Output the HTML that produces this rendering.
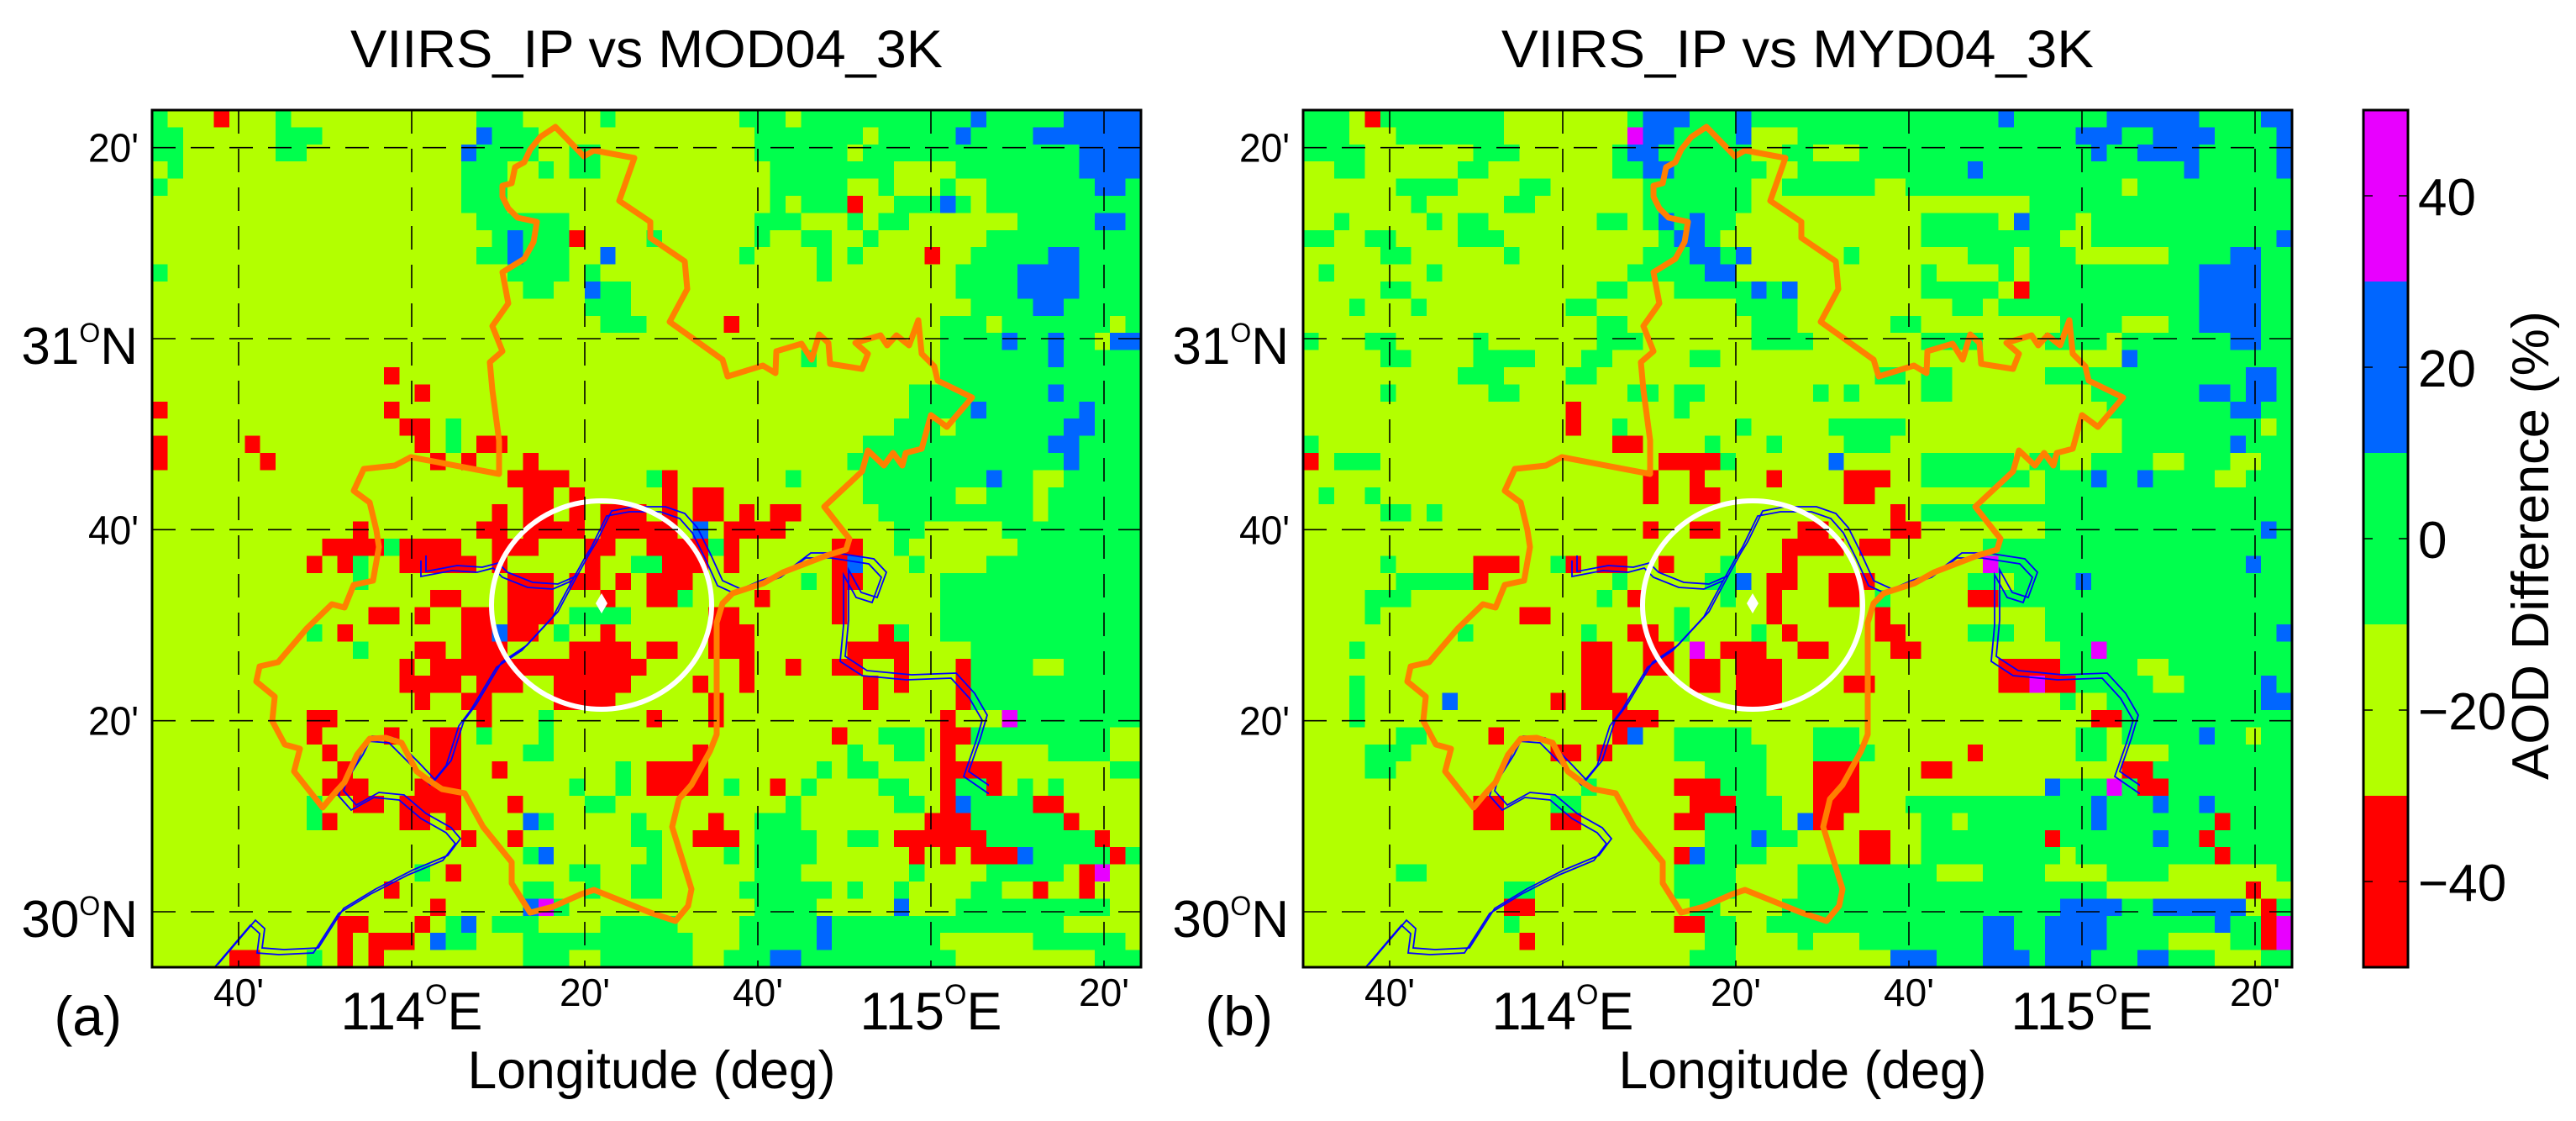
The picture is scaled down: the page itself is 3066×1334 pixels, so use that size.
<!DOCTYPE html>
<html><head><meta charset="utf-8"><style>
html,body{margin:0;padding:0;background:#fff;}
svg{display:block;font-family:"Liberation Sans",Arial,sans-serif;}
</style></head><body>
<svg id="fig" width="3066" height="1334" viewBox="0 0 3066 1334" xmlns="http://www.w3.org/2000/svg">
<rect width="3066" height="1334" fill="#fff"/>
<g id="root"></g>
</svg>
<script>
// ---- data ----
const panelTitles = ["VIIRS_IP vs MOD04_3K", "VIIRS_IP vs MYD04_3K"];
const panelLetters = ["(a)", "(b)"];
const binEdges = [-50, -30, -10, 10, 30, 50];
const binColors = ["#ff0000", "#b3ff00", "#00ff4d", "#0066ff", "#e800ff"];
const cbTicks = [-40, -20, 0, 20, 40];
const codeValues = {r: -40, y: -20, g: 0, b: 20, m: 40};
const lonTicks = [113 + 40/60, 114, 114 + 20/60, 114 + 40/60, 115, 115 + 20/60];
const lonLabels = ["40'", "114|E", "20'", "40'", "115|E", "20'"];
const latTicks = [30, 30 + 20/60, 30 + 40/60, 31, 31 + 20/60];
const latLabels = ["30|N", "20'", "40'", "31|N", "20'"];
const panelARows = [
"gyyyryyygyyyyyyyyyyyygggyyyyygyyyyyyyygggygggggggggggbgggggbbbb",
"ggyyyyyygggyyyyyyyyyybgggyyyyyyyyyyyyyygggggggygggggbggggbbbbb",
"ggyyyyyyggyyyyyyyyyybggggyyggyyyyyyyyyyggggggyggggggggggggggbbb",
"ygyyyyyyyyyyyyyyyyyygggyygyggyyyyyyyyyyyggggggggyyyyggggggggbbb",
"gyyyyyyyyyyyyyyyyyyygggyyyyyyyyyyyyyyyyygggggyygyyygyygggggggbbg",
"yyyyyyyyyyyyyyyyyyyygggyyyyyyyyyyyyyyyyygygggryygggbgygggggggggg",
"yyyyyyyyyyyyyyyyyyyyyggggggyyyyyyyyyyyygggyyygyggyyyyyyygggggbbgg",
"yyyyyyyyyyyyyyyyyyyyyygbgggryyyygyyyyyygyyggyygyyyyyyygggggggggg",
"yyyyyyyyyyyyyyyyyyyyyggbgggyybyyyyyyyygyyyygygyyyyryygggggbbgggg",
"gyyyyyyyyyyyyyyyyyyyyyyggggygyyyyyyyyyyyyyygyyyyyyyyggggbbbbgggg",
"yyyyyyyyyyyyyyyyyyyyyyyyggyybggyyyyyyyyyyyyyyyyyyyyyggggbbbbgggg",
"yyyyyyyyyyyyyyyyyyyyyyyyyyyygggyyyyyyyyyyyyyyyyyyyyyyggggbbggggg",
"yyyyyyyyyyyyyyyyyyyyyyyyyyyyygggyyyyyryyyyyyyyyyyyygggygggggggyg",
"yyyyyyyyyyyyyyyyyyyyyyyyyyyyyyyyyyyyyyyyyyyyyyyyyyyggggbggbggybb",
"yyyyyyyyyyyyyyyyyyyyyyyyyyyyyyyyyyyyyyyyyygyyyyyyyygggggggbggggg",
"yyyyyyyyyyyyyyyryyyyyyyyyyyyyyyyyyyyyyyyyyyyyyyyyyyggggggggggggg",
"yyyyyyyyyyyyyyyyyryyyyyyyyyyyyyyyyyyyyyyyyyyyyyyygggggggggbggggg",
"ryyyyyyyyyyyyyyryyyyyyyyyyyyyyyyyyyyyyyyyyyyyyyyyggggbggggggbggg",
"yyyyyyyyyyyyyyyyrrygyyyyyyyyyyyyyyyyyyyyyyyyyyyygggygggggggbbggg",
"ryyyyyryyyyyyyyyyrygyrryyyyyyyyyyyyyyyyyyyyyyyggggggggggggbbggg",
"ryyyyyyryyyyyyyyyyryryyyryyyyyyyyyyyyyyyyyyyyggggggggggggggbggg",
"yyyyyyyyyyyyyyyyyyyyyyyrrrryyyyygryyyyyyygyyyyggggggggbggyyggggg",
"yyyyyyyyyyyyyyyyyyyyyyyyrryryyyyyryrryyyyyyyyyggggggyygggyggggggy",
"yyyyyyyyyyyyyyyyyyyyyyryrryryrrryryrryryrryyyyyggggggggggygggggggg",
"yyyyyyyyyyyyyryyyyyyyrryrrrryrrrrrybyrrrryyyyyyyggyyyyyggggggggg",
"yyyyyyyyyyyrrrrgrrrryyrrryyyrryyrrrrgryyyyyyrryygyyyyyyygggggggg",
"yyyyyyyyyyryrgyyrrrrryryyyyyryyggrrryryyyyyyrbyyygyyyyggggggggggg",
"yyyyyyyyyyyyygyyyyyyyyyrrryrryryrrryyyyyyygyrryyyyyggggggggggggg",
"yyyyyyyyyyyyyyyyyyrryyyrrryyyryyrrgyyyyryyyyryyyyyyggggggggggggg",
"yyyyyyyyyyyyyyrryryyrryrrryggggyyyyyrryyyyyyryyyyyyggggggggggggg",
"yyyyyyyyyygyryyyyyyyrrbrrygyyryyyyyyrrryyyyyyyyrgyyggggggggggggg",
"yyyyyyyyyyyyygyyyrryrrryyyyrrrryrryyrrryyyyyyrrrryyyyggggggggggg",
"yyyyyyyyyyyyyyyyryrrrrrrrrrrrrrryyyyyyryyryyrryyryyyrggggyyggggg",
"yyyyyyyyyyyyyyyyrrrryrrryyrrrrryyyyryyryyyyyyyryryyyrggggggggggg",
"yyyyyyyyyyyyyyyyyryyrryyyyrrrryyyyyyryyyyyyyyyryyyyyrggggggggggg",
"yyyyyyyyyyrryyyyyyyyyryyygyyyyyyryyyryyyyyyyyyyyyyyryyymgggggggg",
"yyyyyyyyyyryyyyryyrrygyyygyyyyyyyyyyyyyyyyyyryygggyrrgggggggggyy",
"yyyyyyyyyyyryyyyyyrryyyyggyyyyyyyyyryyyyyyyyygyyggyryyyyyyggggyy",
"yyyyyyyyyyyyryyyyyrryyryyyyyyygyrrrryyyyyyygyggyyyyrrrryyyyyyygg",
"yyyyyyyyyyyrrryyyrrryyyyyyygyygyrrrrygyyrygyyyyggyyrggrygygyyyy",
"yyyyyyyyyygyyrryrrrryyyryyyyggyyyyyyyyyyygyyyyyyggyrbggggrryyyyy",
"yyyyyyyyyygryyyyrryryyyybgyyyyygyyyyryygggyyyyyyyyrrrggggggryyyy",
"yyyyyyyyyyyyyyyyyyyyryyryyyyyyyggyyrrryggggyyggyrrrrrrgggggggryyy",
"yyyyyyyyyyyyyyyyyyyyyyyygbyyyyyygyyyygyggggyyyyyyryryrrrbgggggrgg",
"yyyyyyyyyyyyyyyyygyryyyyyyyggyyggyyyyyygggyyyyyyygyyyygggggyrmy",
"yyyyyyyyyyyyyyyryyyyyyyyggyygyyggyyyyyggggggygyygyyyyggyyryyryy",
"yyyyyyyyyyyyyyyyyyryyyyybmgyyyyyyyyyyyyggggyyyyybyyyggggggggggyyr",
"yyyyyyyyyyyyrryyyrygbygggyyyygggggyyyygggggbgggggggggggggggyyyy",
"yyyyyyyyyyyyryrrrybggyyygggggggggggyyygggggbgggggggyyyyyyggggggyy",
"yyyyyrryyygyryryyyyyyyyygggyyggggggyygggbbggggggggggyyyyyyyyygg"
];
const panelBRows = [
"gggyrggggggggyyyyyyyygbbbgggbggggggggggggggggbggggggbbbbbbggggbb",
"gggyyygggggggyyyyyyyymbbggggbyyyggggggggggggggggggbbbggbbbbggggbb",
"ggggyyyyyyygggyyyyyygbbggggggyyggyyygggggggggggggggbggbbbbgggggb",
"yyggyyyyyyggyyyyyyyyggbbggggggyygggggggggggbgggggggggggggbgggggbb",
"yyyyyyggggyyyyggyyyyyygggggggyyggggggyyggggggggggggggyggggggggggb",
"yyyyyyygyyyyyggyyyyyyygggggggyyyyyyyyyyyyyyyyyygggggggggggggggggb",
"yygyyyyygyggyyyyyyyggygbgbggyyyyyyyyyyyygggggybgggygggggggggggggbb",
"ggyyggyyyygggyyyyyyyyyygbbgyyyyyyyyyyyyygggggggggyyggggggggggggbb",
"yyyyyggyyyyyygyyyyyyyygggbbgbyyyyyygyyyyyyygggygggyyyyyyggggbbgg",
"ygyyyyyygyyyyyyyyyyyygggggbbyyyyyyyyyyyygyyyygygggggggggggbbbbgg",
"yyyyyggyyyyyyyyyyyyggyyygggggbgbyyyyyyyygggggyrgggggggggggbbbbgg",
"yyygyyygyyyyyyyyyggyyyyyyyyyggggyyyyyyyyyyggygggggggggggggbbbbgg",
"yyyyyyyyyyyyyyyyyyyggyyyyyyyygggyyyyyyggyyyyyyyyyggggyyyggbbbbgg",
"gyyyggyyyyygyyyyyyygggyyyyyyyggggyyyyyyyggggyyyyggggygggggggbbggg",
"yyyyyggyyyyggggyyyggyyyyyggyyyyyyyyyyyyyyyyyyyyyyyyyybggggggggggb",
"yyyyyyyyyygggyyyyggyyyyyyyyyyyyyyyyyyggyggyyyyyygggggggggggggbbg",
"yyyyygyyyyyyggyyyyyyyggyggyyyyyyygygyyyyggyyyyyyyyygggggggbbgbbgg",
"yyyyyyyyyyyyyyyyyryyyyyygyyyyyyyyyyyyyyyyyyyyyyyyyyyggggggggbbgg",
"yyyyyyyyyyyyyyyyyryygyyyyyyygyyyyygggggyyyyyyyyyyyyyygggggggggyg",
"gyyyyyyyyyyyyyyyyyyyrryyyygyyygyyyygggyyyyyyyyyyyyyyygggggggbgggg",
"rygggyyyyyyyyyyyyyyyyyyrrrrgyyyyyybyyyyyggggggyggyyggggyygggyyggg",
"yyyyyyyyyyyyyyyyyyyyyyryyryyyyryyyyrrryygggggggygggbggbggggyyggg",
"ygyygyyyyyyyyyyyyyyyyyryyrryyyyyyyyrryyyyyyyyyyyggggggggggggggggg",
"yyyyyggygyyyyyyyyyyyyyyyyyyyyyyyyyyyyyryggggggggggggggggggggggggb",
"yyyyyyyyyyyyyyyyyyyyyyryyrryyyyyrryyyyrryyyyyyyyggggggggggggggbg",
"yyyyyyyyyyyyyyyyyyyyyyyyyyyyyyyrrrryrryyyyyyggggggggggggggggggg",
"yyyyygyyyyyrrryygryrryyryyygyyyryyyyyyyyyyyymggggggggggggggggbg",
"yyyyyygggggryyyyyyyygyyyyyggbyrryyrrryyyyyyggyggggbgggggggggggg",
"yyyygggyyyyyyyyyyyygyryyyyygyyryyyrrygyyyyyrrggggggggggggggggggg",
"yyyygyyyyyyyyyrryyyyyyyygyyyyyryyyyyyryyyyyyyyyygggggggggggggggg",
"yyyyyyyyyygyyyyyyygyyrrygyyyygyryyyyyrryyyygggyygggggggggggggggb",
"yyygyyyyyyyyyyyyyyrryyrrymyrrryyrryyyyrryyyyyyyyyggmgggggggggggg",
"yyyyyyyyyyyyyyyyyyrryyrryrryrrryyyyyyyyyyyyyyrrrrgggggyygggggggg",
"yyygyyyyyyyyyyyyyyrryyyyyrryrrryyyyrryyyyyyyyrrmrrgggggyygggggbgg",
"yyygyyyyybyyyyyyryrrryyyyyyyrrryyyyyyyyyyyyyyyyyygyyggggggggggbb",
"yyygyyyyyyyyyyyyyyyyrrryyyyyyyyyyyyyyyyyyyyyyyyyyyyrrggggggggggg",
"yyyyyyggyyyyryyyyyyyrbyygggggyyyygggyyyyyyyyyyyyyyggygggggbggyg",
"yyyygggyyyyyyyyyrryryyyyggggggyyyggggyyyyyyryyyyyyggyyyyggggggggg",
"yyyyggyyyyyyyyyyyyyyyyyyyyggggyyyrrryyyyrryyyyyyyyyyyrrggggggggg",
"yyyyyyyyyyyyyyyyyygyyyyyrrrgggyyyrrryyyyyyyyyyyybgggmgrrgggggggg",
"yyyyyyyyyyyrryyyggyyyyyyyrrrgggyyrrryyyggggggggggggbgggbggbgggg",
"yyyyyyyyyyyrryyyrryyyyyyrrgggggybrryyyyyggyggggggggbgggggggrgggg",
"yyyyyyyyyyyyyyyyyyyyyyyyyygggbggyyyyrryyggggggggrggggggbggrgggg",
"yyyyyyyyyyyyyyyyyyyyyyyyrbggggyyyyyyrryygggggggggygggggggggrgggg",
"yyyyyyggyyyyyyyyyyyyyyyyggggyyyygggggggggyyyggggyyyyggggyyyyyyyg",
"yyyyyyyyyyyyyggyyyyyyyyyggggyyyyggggggggggggggggggggyyyyyyyyyryy",
"yyyyyyyyyyyyyrryyyyyyyyyyggyyyyggggggggggggggggggbbbbggbbbbbbyrgg",
"yyyyyyyyyyyyygyyyyyyyyyyrrggyyggggggggggggggbbggbbbbgggggggbggrm",
"yyyyyyyyyyyyyyryyyyyyyyyyyggyyyygyyyggggggggbbggbbbbggggyyyyggrm",
"yyyyyyyyyyyyyyyyyyyyyyyyygggyyyyyyyyyybbbgggbbbgbbbgggbbgggyyygg"
];
const boundaryPts = [[661,151],[695,186],[707,179],[755,188],[737,239],[774,264],[774,283],[815,311],[818,344],[797,383],[860,428],[866,448],[908,435],[923,444],[924,418],[954,409],[966,428],[975,398],[986,408],[988,433],[1026,439],[1033,421],[1018,408],[1048,399],[1056,411],[1067,399],[1082,411],[1093,381],[1097,421],[1112,436],[1116,453],[1157,473],[1127,508],[1108,494],[1097,534],[1078,539],[1074,554],[1063,539],[1052,554],[1033,536],[1026,561],[981,603],[1003,631],[1011,641],[1007,654],[984,661],[932,681],[909,694],[872,706],[860,718],[853,741],[853,874],[845,894],[823,934],[808,951],[800,984],[823,1058],[819,1078],[804,1096],[774,1086],[737,1071],[707,1059],[692,1064],[658,1079],[631,1086],[609,1051],[609,1026],[575,984],[553,944],[526,939],[511,929],[496,918],[478,884],[459,878],[440,879],[425,898],[410,931],[399,943],[384,961],[350,918],[357,891],[339,886],[324,858],[327,829],[305,811],[309,793],[331,788],[365,748],[395,719],[410,723],[421,696],[444,691],[451,651],[448,631],[440,598],[421,584],[433,558],[470,554],[489,544],[594,564],[594,524],[586,464],[583,431],[598,418],[586,388],[605,361],[598,324],[624,308],[635,288],[639,264],[616,259],[605,248],[598,234],[598,221],[609,218],[613,199],[624,193],[631,178],[643,163]];
const riverMain = [[256,1151],[301,1098],[312,1108],[309,1131],[335,1133],[376,1131],[406,1084],[444,1061],[489,1038],[530,1021],[545,1001],[534,988],[504,971],[478,949],[448,946],[421,961],[406,944],[410,931],[429,901],[440,879],[466,881],[496,911],[515,931],[534,908],[549,861],[564,841],[594,791],[624,771],[661,731],[684,688],[699,661],[707,648],[725,611],[752,606],[789,606],[812,614],[827,631],[842,661],[857,694],[879,704],[902,694],[932,684],[962,661],[992,661],[1037,668],[1052,684],[1041,714],[1022,708],[1007,681],[1007,741],[1003,784],[1029,801],[1082,806],[1135,804],[1157,828],[1172,854],[1164,881],[1150,921],[1179,941],[1225,931],[1247,954],[1285,988],[1300,1028],[1307,1071],[1341,1088],[1356,1114]];
const riverBranch = [[504,664],[504,683],[541,676],[571,678],[590,673],[601,684],[631,696],[661,698],[684,688]];

// ---- geometry ----
const NS = "http://www.w3.org/2000/svg";
const panelLefts = [181, 1551];
const plotTop = 131, plotW = 1177, plotH = 1020;
const lonMin = 113.5, lonMax = 113.5 + 1177/618;
const latMax = 31 + 272/682, latMin = latMax - 1020/682;
const cbX = 2813, cbW = 53;
function colorFor(v){for(let i=0;i<binColors.length;i++){if(v>=binEdges[i]&&v<binEdges[i+1])return binColors[i];}return binColors[binColors.length-1];}
function xLon(lon){return (lon-lonMin)/(lonMax-lonMin)*plotW;}
function yLat(lat){return plotTop+(latMax-lat)/(latMax-latMin)*plotH;}
function yCb(v){return plotTop+(50-v)/100*plotH;}
function mk(tag,attrs,parent){const e=document.createElementNS(NS,tag);for(const k in attrs)e.setAttribute(k,attrs[k]);parent.appendChild(e);return e;}
const root=document.getElementById('root');

function drawPanel(p,rows){
  const L=panelLefts[p];
  const g=mk('g',{transform:`translate(${L},0)`},root);
  
  
  const nR=rows.length, nC=64;
  const cw=plotW/nC, rh=plotH/nR;
  const cells=mk('g',{'shape-rendering':'crispEdges'},g);
  
  
  for(let r=0;r<nR;r++){
    let s=rows[r].replace(/ /g,'');
    while(s.length<nC)s+=s[s.length-1]||'y';
    for(let c=0;c<nC;c++){
      const v=codeValues[s[c]]!==undefined?codeValues[s[c]]:-20;
      const rc=mk('rect',{x:(c*cw).toFixed(2),y:(plotTop+r*rh).toFixed(2),width:(cw+0.6).toFixed(2),height:(rh+0.6).toFixed(2),fill:colorFor(v)},cells);
      
      
    }
  }
  const clip=mk('clipPath',{id:'clip'+p},g);
  mk('rect',{x:0,y:plotTop,width:plotW,height:plotH},clip);
  const ov=mk('g',{'clip-path':`url(#clip${p})`,transform:`translate(-181,0)`},g);
  const gr=mk('g',{stroke:'#000','stroke-width':1.6,'stroke-dasharray':'28 18',fill:'none'},g);
  
  
  lonTicks.forEach(t=>{const x=xLon(t);mk('line',{x1:x,y1:plotTop,x2:x,y2:plotTop+plotH},gr);});
  latTicks.forEach(t=>{const y=yLat(t);mk('line',{x1:0,y1:y,x2:plotW,y2:y},gr);});
  const pts=a=>a.map(q=>q.join(',')).join(' ');
  [[3,-3],[-3,3]].forEach(o=>{
    [riverMain,riverBranch].forEach(rv=>{
      const pl=mk('polyline',{points:pts(rv),fill:'none',stroke:'#0000ff','stroke-width':1.8,transform:`translate(${o[0]},${o[1]})`},ov);
      
      
    });
  });
  const bd=mk('polygon',{points:pts(boundaryPts),fill:'none',stroke:'#ff8000','stroke-width':7,'stroke-linejoin':'round'},ov);
  
  
  const ci=mk('ellipse',{cx:716,cy:720,rx:131,ry:124,fill:'none',stroke:'#fff','stroke-width':6},ov);
  
  
  const dm=mk('polygon',{points:'716,706 723,718 716,730 709,718',fill:'#fff'},ov);
  
  
  const fr=mk('rect',{x:0,y:plotTop,width:plotW,height:plotH,fill:'none',stroke:'#000','stroke-width':3},g);
  
  
  lonTicks.forEach((t,i)=>{
    const x=xLon(t);const lab=lonLabels[i];
    if(lab.includes('|')){
      const [a,b]=lab.split('|');
      const tx=mk('text',{x:x,y:1225,'font-size':63,'text-anchor':'middle'},g);
      
      
      tx.innerHTML=`${a}<tspan font-size="34" dy="-30">O</tspan><tspan dy="30">${b}</tspan>`;
    } else {
      const tx=mk('text',{x:x,y:1197,'font-size':46,'text-anchor':'middle',textLength:60,lengthAdjust:'spacingAndGlyphs'},g);
      
      
      tx.textContent=lab;
    }
  });
  latTicks.forEach((t,i)=>{
    const y=yLat(t);const lab=latLabels[i];
    if(lab.includes('|')){
      const [a,b]=lab.split('|');
      const tx=mk('text',{x:-17,y:y+30,'font-size':62,'text-anchor':'end'},g);
      
      
      tx.innerHTML=`${a}<tspan font-size="32" dy="-26">O</tspan><tspan dy="26">${b}</tspan>`;
    } else {
      const tx=mk('text',{x:-16,y:y+17,'font-size':48,'text-anchor':'end',textLength:60,lengthAdjust:'spacingAndGlyphs'},g);
      
      
      tx.textContent=lab;
    }
  });
  const ti=mk('text',{x:plotW/2,y:80,'font-size':63,'text-anchor':'middle',textLength:705,lengthAdjust:'spacingAndGlyphs'},g);
  
  
  ti.textContent=panelTitles[p];
  const xl=mk('text',{x:plotW/2+6,y:1295,'font-size':63,'text-anchor':'middle',textLength:438,lengthAdjust:'spacingAndGlyphs'},g);
  
  
  xl.textContent='Longitude (deg)';
  const pl=mk('text',{x:-36,y:1232,'font-size':66,'text-anchor':'end'},g);
  
  
  pl.textContent=panelLetters[p];
}
drawPanel(0,panelARows);
drawPanel(1,panelBRows);

const cb=mk('g',{},root);


for(let i=0;i<binColors.length;i++){
  const y1=yCb(binEdges[i+1]),y0=yCb(binEdges[i]);
  const r=mk('rect',{x:cbX,y:y1,width:cbW,height:y0-y1,fill:binColors[i]},cb);
  
  
}
mk('rect',{x:cbX,y:plotTop,width:cbW,height:plotH,fill:'none',stroke:'#000','stroke-width':3},cb);
cbTicks.forEach(v=>{
  const y=yCb(v);
  mk('line',{x1:cbX,y1:y,x2:cbX+11,y2:y,stroke:'#000','stroke-width':1.5},cb);
  mk('line',{x1:cbX+cbW-11,y1:y,x2:cbX+cbW,y2:y,stroke:'#000','stroke-width':1.5},cb);
  const t=mk('text',{x:2878,y:y+23,'font-size':62},cb);
  
  
  t.textContent=String(v).replace('-','\u2212');
});
const cbl=mk('text',{x:0,y:0,'font-size':62,'text-anchor':'middle',transform:'translate(3033,649) rotate(-90)',textLength:558,lengthAdjust:'spacingAndGlyphs'},cb);


cbl.textContent='AOD Difference (%)';
</script>
</body></html>
